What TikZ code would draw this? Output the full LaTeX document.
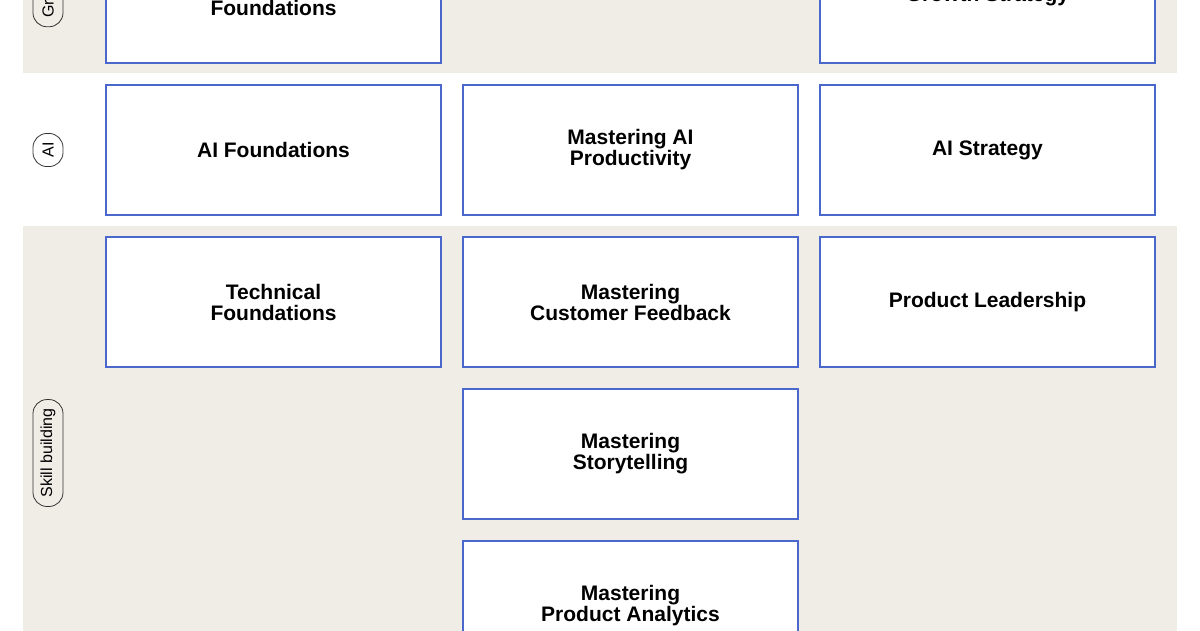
\documentclass[tikz,border=0pt]{standalone}
\usepackage{fontspec}
\setmainfont{Liberation Sans}
\definecolor{beige}{HTML}{F0EDE7}
\definecolor{bl}{HTML}{4A68CC}
\begin{document}
\begin{tikzpicture}[x=1pt,y=-1pt,
 card/.style={draw=bl,line width=1.6pt,fill=white,minimum width=335pt,minimum height=130pt,align=center,font=\bfseries\fontsize{21}{21}\selectfont},
 pill/.style={draw=black!80,line width=0.8pt,rounded corners=14pt,rotate=90,inner xsep=9pt,inner ysep=7pt,minimum height=30pt,font=\fontsize{16}{16}\selectfont}]
\useasboundingbox (0,0) rectangle (1200,630);
\clip (0,0) rectangle (1200,630);
\fill[beige] (23,-10) rectangle (1177,73);
\fill[beige] (23,226) rectangle (1177,640);
\draw[draw=bl,line width=1.6pt,fill=white] (106,-70) rectangle (441,63);
\draw[draw=bl,line width=1.6pt,fill=white] (820,-70) rectangle (1155,63);
\node[font=\bfseries\fontsize{21}{21}\selectfont] (pf) at (273.5,8) {Foundations};
\node[font=\bfseries\fontsize{21}{21}\selectfont] (gs) at (987.5,-4) {Growth Strategy};
\node[card] (aif) at (273.5,150) {AI Foundations};
\node[card] (maip) at (630.5,150) {Mastering AI\\Productivity};
\node[card] (ais) at (987.5,150) {AI Strategy};
\node[card] (tf) at (273.5,302) {Technical\\Foundations};
\node[card] (mcf) at (630.5,302) {Mastering\\Customer Feedback};
\node[card] (pl) at (987.5,302) {Product Leadership};
\node[card] (ms) at (630.5,454) {Mastering\\Storytelling};
\node[card] (mpa) at (630.5,606) {Mastering\\Product Analytics};
\node[pill] (g) at (48,-8) {Growth};
\node[pill] (ai) at (48,150) {AI};
\node[pill] (sb) at (48,453) {Skill building};
\end{tikzpicture}
\end{document}
